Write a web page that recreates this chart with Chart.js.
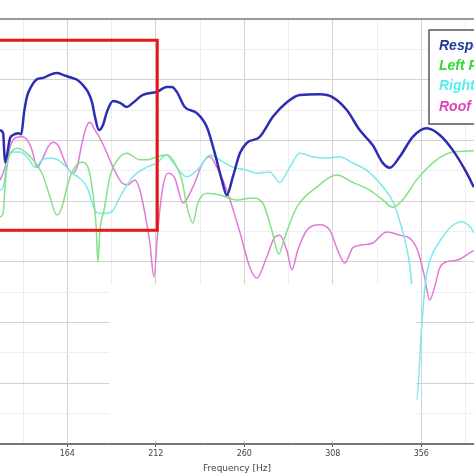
<!DOCTYPE html>
<html>
<head>
<meta charset="utf-8">
<script src="https://cdn.jsdelivr.net/npm/chart.js@4.4.0/dist/chart.umd.min.js"></script>
<style>
  html, body { margin: 0; padding: 0; background: #fff; }
  #wrap { width: 474px; height: 474px; }
</style>
</head>
<body>
<div id="wrap"><canvas id="chart"></canvas></div>
<script>
// ===== Data =====
const tickFreqs = [164, 212, 260, 308, 356];
const minorFreqs = [140, 188, 236, 284, 332, 380];
const seriesNames = ['Response', 'Left Panel', 'Right Panel', 'Roof Panel'];

const respFreq = [127.5, 129.2, 130.2, 133.0, 134.6, 137.3, 139.0, 140.6, 142.2, 144.3, 147.6, 150.8, 154.6, 158.4, 161.7, 165.5, 169.3, 172.5, 175.2, 177.4, 179.0, 181.2, 183.3, 185.5, 188.8, 192.6, 196.3, 199.6, 205.0, 212.6, 218.0, 220.7, 223.4, 227.7, 234.3, 239.7, 244.0, 247.8, 250.5, 253.8, 257.6, 261.4, 268.4, 275.5, 283.1, 290.1, 301.0, 308.0, 315.6, 322.6, 329.7, 335.1, 338.9, 344.3, 351.4, 359.0, 366.0, 373.1, 380.7, 384.5];
const respLevel = [-18.3, -18.8, -23.6, -19.6, -19.1, -18.8, -19.0, -15.3, -12.7, -11.2, -9.9, -9.7, -9.2, -8.9, -9.2, -9.6, -10.0, -10.9, -12.0, -13.7, -16.1, -18.3, -17.5, -15.3, -13.5, -13.8, -14.5, -13.8, -12.5, -12.0, -11.2, -11.2, -12.0, -14.5, -15.5, -17.8, -22.1, -26.5, -29.0, -26.0, -22.1, -20.4, -19.4, -16.1, -13.7, -12.5, -12.4, -12.9, -15.0, -18.3, -20.8, -23.7, -24.5, -22.7, -19.4, -18.0, -19.1, -21.6, -25.4, -27.7];

const leftFreq = [127.5, 129.2, 130.2, 131.9, 134.6, 137.3, 141.1, 145.4, 150.3, 154.6, 158.4, 161.1, 163.8, 167.1, 172.0, 175.2, 177.9, 179.6, 180.6, 181.7, 183.9, 187.1, 192.6, 196.3, 203.4, 207.2, 212.6, 218.0, 221.2, 226.1, 229.4, 232.1, 234.8, 239.7, 246.7, 255.9, 264.6, 270.0, 274.9, 278.7, 282.0, 288.5, 299.3, 310.1, 318.8, 328.0, 335.1, 340.5, 345.9, 353.5, 364.3, 373.1, 384.5];
const leftLevel = [-32.6, -32.0, -27.7, -23.2, -21.6, -21.3, -21.9, -23.2, -25.4, -29.3, -32.3, -31.0, -27.7, -24.9, -23.6, -24.4, -28.7, -33.9, -40.0, -34.8, -31.5, -26.0, -22.7, -22.1, -23.2, -23.2, -22.7, -22.4, -23.2, -26.5, -31.5, -33.6, -30.3, -28.7, -29.0, -29.8, -29.5, -30.3, -34.8, -38.7, -35.9, -31.0, -27.7, -25.7, -26.9, -28.2, -29.8, -31.0, -29.8, -26.5, -23.2, -21.9, -21.7];

const rightFreq = [127.5, 129.2, 131.3, 134.6, 138.4, 142.7, 146.5, 150.3, 154.6, 159.0, 163.8, 166.5, 169.8, 174.7, 179.0, 181.7, 185.5, 188.8, 192.6, 199.6, 207.2, 212.6, 218.0, 221.2, 228.9, 235.9, 241.3, 246.7, 253.8, 261.4, 266.8, 273.8, 279.2, 284.7, 290.1, 297.1, 304.7, 311.7, 318.8, 326.3, 335.6, 341.0, 345.3, 348.0, 350.8, 353.5, 356.2, 358.4, 361.1, 366.5, 371.9, 377.8, 382.7, 384.5];
const rightLevel = [-28.2, -27.7, -23.7, -21.9, -21.9, -22.9, -24.4, -23.2, -22.9, -23.2, -24.5, -25.4, -26.0, -27.7, -31.5, -32.0, -32.0, -31.5, -29.3, -26.0, -24.4, -23.7, -22.4, -23.6, -26.0, -24.4, -22.4, -23.2, -24.4, -24.9, -25.4, -25.2, -26.9, -24.4, -22.1, -22.7, -22.9, -22.7, -23.7, -24.9, -27.8, -30.3, -34.3, -37.6, -43.8, -62.8, -50.7, -43.0, -39.4, -36.4, -34.3, -33.4, -34.3, -35.2];

const roofFreq = [127.5, 129.2, 131.3, 133.0, 135.6, 139.5, 142.2, 144.9, 147.6, 150.3, 153.5, 156.3, 159.0, 162.8, 166.5, 169.3, 172.0, 174.7, 176.3, 179.0, 181.7, 185.5, 188.8, 193.7, 196.9, 200.7, 203.4, 206.1, 208.8, 211.0, 213.1, 215.8, 218.6, 222.3, 226.7, 232.1, 237.5, 241.3, 245.1, 250.5, 257.6, 263.0, 266.8, 272.2, 276.6, 279.2, 283.1, 285.8, 289.0, 293.9, 301.0, 306.4, 310.7, 314.5, 318.8, 324.2, 329.7, 337.3, 344.3, 349.7, 354.0, 357.8, 360.5, 363.2, 366.0, 369.7, 375.7, 380.5, 384.5];
const roofLevel = [-26.5, -25.4, -23.2, -21.1, -19.6, -19.4, -19.9, -21.6, -24.5, -23.2, -21.1, -20.3, -20.8, -23.6, -25.4, -24.4, -20.4, -17.5, -17.0, -18.3, -19.6, -22.1, -24.4, -27.0, -27.3, -26.5, -28.2, -32.0, -36.9, -42.5, -34.8, -27.7, -25.4, -26.2, -30.3, -27.7, -23.7, -22.7, -24.4, -28.2, -35.1, -40.9, -42.7, -39.2, -35.9, -35.6, -38.1, -41.3, -38.1, -34.8, -33.9, -34.8, -38.1, -40.2, -37.7, -37.2, -36.9, -35.1, -35.6, -36.1, -38.1, -42.5, -46.3, -44.2, -41.0, -40.0, -39.7, -38.9, -38.1];

// highlighted region (red box) and blanked area, in data units
const boxFreq = [120, 212.8];
const boxLevel = [-3.5, -34.8];
const blankFreq = [186.8, 353.3];
const blankLevel = [-43.7, -69.5];

const lineColors = ['#2d2db4', '#86e086', '#7aeaea', '#e07ad8'];
const labelColors = ['#1f3aa0', '#33d633', '#55eeee', '#dd44b4'];

const toPoints = (fs, vs) => fs.map((f, i) => ({ x: f, y: vs[i] }));

// ===== Overlay plugin: blank patch, red box, legend box =====
const overlayPlugin = {
  id: 'overlays',
  afterDatasetsDraw(chart) {
    const { ctx, chartArea, scales: { x, y } } = chart;
    ctx.save();

    // white patch
    const bx0 = x.getPixelForValue(blankFreq[0]);
    const bx1 = x.getPixelForValue(blankFreq[1]);
    const by0 = y.getPixelForValue(blankLevel[0]);
    const by1 = y.getPixelForValue(blankLevel[1]);
    ctx.fillStyle = '#fff';
    ctx.fillRect(bx0, by0, bx1 - bx0, by1 - by0);

    // red box
    const rx0 = x.getPixelForValue(boxFreq[0]);
    const rx1 = x.getPixelForValue(boxFreq[1]);
    const ry0 = y.getPixelForValue(boxLevel[0]);
    const ry1 = y.getPixelForValue(boxLevel[1]);
    ctx.strokeStyle = '#e81818';
    ctx.lineWidth = 3;
    ctx.strokeRect(rx0, ry0, rx1 - rx0, ry1 - ry0);

    // legend box
    const lx = chartArea.right - 45;
    const ly = chartArea.top + 11;
    ctx.fillStyle = '#fff';
    ctx.fillRect(lx, ly, 120, 94);
    ctx.strokeStyle = '#555';
    ctx.lineWidth = 1.5;
    ctx.strokeRect(lx, ly, 120, 94);
    ctx.font = 'italic bold 14px "Liberation Sans", Arial, sans-serif';
    ctx.textBaseline = 'middle';
    seriesNames.forEach((name, i) => {
      ctx.fillStyle = labelColors[i];
      ctx.fillText(name, lx + 10, ly + 16 + i * 20.3);
    });

    ctx.restore();
  }
};

// ===== Chart =====
const ctx = document.getElementById('chart').getContext('2d');

new Chart(ctx, {
  type: 'line',
  data: {
    datasets: [
      { label: seriesNames[0], data: toPoints(respFreq, respLevel), borderColor: lineColors[0], borderWidth: 2.5 },
      { label: seriesNames[1], data: toPoints(leftFreq, leftLevel), borderColor: lineColors[1], borderWidth: 1.5 },
      { label: seriesNames[2], data: toPoints(rightFreq, rightLevel), borderColor: lineColors[2], borderWidth: 1.5 },
      { label: seriesNames[3], data: toPoints(roofFreq, roofLevel), borderColor: lineColors[3], borderWidth: 1.5 }
    ]
  },
  options: {
    responsive: true,
    maintainAspectRatio: false,
    animation: false,
    layout: { padding: { top: 19, left: 0, right: 0, bottom: 0 } },
    elements: {
      point: { radius: 0 },
      line: { cubicInterpolationMode: 'monotone', fill: false }
    },
    plugins: {
      legend: { display: false },
      tooltip: { enabled: false }
    },
    scales: {
      x: {
        type: 'linear',
        min: 127.5,
        max: 384.6,
        afterBuildTicks: (axis) => {
          axis.ticks = [...tickFreqs, ...minorFreqs].sort((a, b) => a - b).map(v => ({ value: v }));
        },
        afterFit: (axis) => { axis.height = 30; },
        grid: {
          color: (c) => tickFreqs.includes(c.tick.value) ? '#d2d2d2' : '#eeeeee',
          tickColor: (c) => tickFreqs.includes(c.tick.value) ? '#555' : 'rgba(0,0,0,0)',
          tickLength: 3
        },
        border: { color: '#777', width: 2 },
        ticks: {
          autoSkip: false,
          maxRotation: 0,
          padding: 2,
          color: '#444',
          font: { size: 8, family: 'DejaVu Sans' },
          callback: (v) => tickFreqs.includes(v) ? String(v) : ''
        },
        title: {
          display: true,
          text: 'Frequency [Hz]',
          color: '#444',
          padding: 0,
          font: { size: 9, family: 'DejaVu Sans' }
        }
      },
      y: {
        min: -70,
        max: 0,
        afterBuildTicks: (axis) => {
          const t = [];
          for (let v = -70; v <= 0; v += 5) t.push({ value: v });
          axis.ticks = t;
        },
        afterFit: (axis) => { axis.width = 0; },
        ticks: { display: false },
        border: { display: false },
        grid: {
          drawTicks: false,
          color: (c) => c.tick.value === 0 ? '#999' : (c.tick.value % 10 === 0 ? '#d2d2d2' : '#eeeeee'),
          lineWidth: (c) => c.tick.value === 0 ? 2 : 1
        }
      }
    }
  },
  plugins: [overlayPlugin]
});
</script>
</body>
</html>
